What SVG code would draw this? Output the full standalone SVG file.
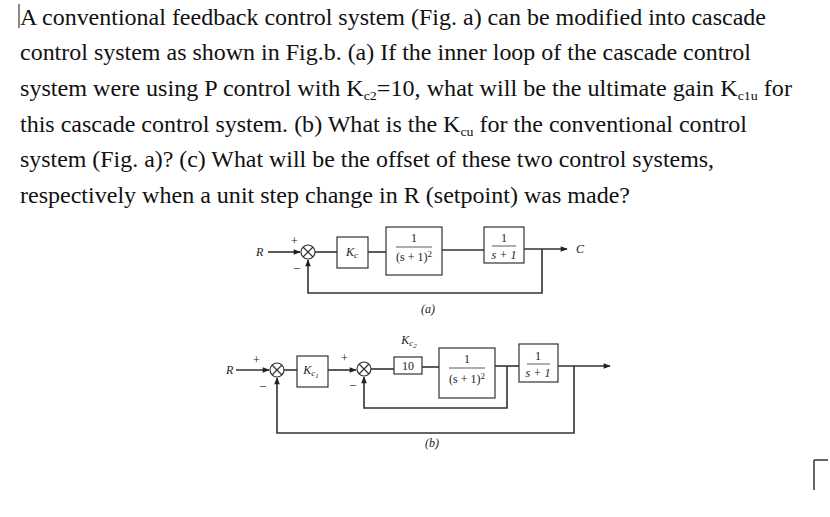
<svg xmlns="http://www.w3.org/2000/svg" width="830" height="517" viewBox="0 0 830 517">
<style>
.p{font-family:"Liberation Serif","Times New Roman",serif;font-size:22.5px;fill:#111}
.d{font-family:"Liberation Serif","Times New Roman",serif;font-size:12px;fill:#222}
.i{font-style:italic}
.b{fill:none;stroke:#333;stroke-width:1.2}
.l{fill:none;stroke:#333;stroke-width:1.6}
</style>
<defs>
<marker id="ar" viewBox="0 0 10 10" refX="9" refY="5" markerWidth="9" markerHeight="7" orient="auto" markerUnits="userSpaceOnUse"><path d="M0,1L10,5L0,9z" fill="#222"/></marker>
</defs>
<rect width="830" height="517" fill="#fff"/>
<line x1="19" y1="4" x2="19" y2="28" stroke="#111" stroke-width="1"/>
<text class="p" x="20" y="25" textLength="746" lengthAdjust="spacingAndGlyphs">A conventional feedback control system (Fig. a) can be modified into cascade</text>
<text class="p" x="20" y="60" textLength="731" lengthAdjust="spacingAndGlyphs">control system as shown in Fig.b. (a) If the inner loop of the cascade control</text>
<text class="p" x="20" y="96" textLength="772" lengthAdjust="spacingAndGlyphs">system were using P control with K<tspan font-size="13" dy="4">c2</tspan><tspan dy="-4">=10, what will be the ultimate gain K</tspan><tspan font-size="13" dy="4">c1u</tspan><tspan dy="-4"> for</tspan></text>
<text class="p" x="20" y="132" textLength="727" lengthAdjust="spacingAndGlyphs">this cascade control system. (b) What is the K<tspan font-size="13" dy="4">cu</tspan><tspan dy="-4"> for the conventional control</tspan></text>
<text class="p" x="20" y="167" textLength="694" lengthAdjust="spacingAndGlyphs">system (Fig. a)? (c) What will be the offset of these two control systems,</text>
<text class="p" x="20" y="203" textLength="610" lengthAdjust="spacingAndGlyphs">respectively when a unit step change in R (setpoint) was made?</text>
<path d="M814,460 H828 M814,460 V490" stroke="#333" stroke-width="1.5" fill="none"/>

<g id="connectors">
<line class="l" x1="268" y1="252" x2="300" y2="252" marker-end="url(#ar)"/>
<line class="l" x1="315" y1="252" x2="337" y2="252"/>
<line class="l" x1="368" y1="252" x2="386" y2="252"/>
<line class="l" x1="442" y1="250" x2="484" y2="250"/>
<line class="l" x1="524" y1="249" x2="567" y2="249" marker-end="url(#ar)"/>
<polyline class="l" points="542,249 542,293 308,293 308,260" marker-end="url(#ar)"/>
<line class="l" x1="236" y1="370" x2="269" y2="370" marker-end="url(#ar)"/>
<line class="l" x1="284" y1="370" x2="297" y2="370"/>
<line class="l" x1="328" y1="370" x2="356" y2="370" marker-end="url(#ar)"/>
<line class="l" x1="371" y1="369" x2="394" y2="369"/>
<line class="l" x1="422" y1="367" x2="439" y2="367"/>
<line class="l" x1="495" y1="366" x2="519" y2="366"/>
<line class="l" x1="558" y1="366" x2="610" y2="366" marker-end="url(#ar)"/>
<polyline class="l" points="507,366 507,408 364,408 364,377" marker-end="url(#ar)"/>
<polyline class="l" points="574,366 574,433 277,433 277,378" marker-end="url(#ar)"/>
</g>

<g id="fig-a">
<text class="d i" x="256" y="256" font-size="13">R</text>
<text class="d" x="291" y="245">+</text>
<text class="d" x="294" y="271">–</text>
<g id="sum-a"><circle class="b" cx="308" cy="252" r="7"/><path class="b" d="M303,247L313,257M313,247L303,257"/></g>
<g id="kc"><rect class="b" x="337" y="237" width="31" height="31" fill="#fff"/><text class="d i" x="352" y="256" text-anchor="middle">K<tspan font-size="9" dy="2">c</tspan></text></g>
<g id="g1"><rect class="b" x="386" y="227" width="56" height="48" fill="#fff"/><text class="d" x="414" y="242" text-anchor="middle">1</text><line x1="396" y1="247" x2="432" y2="247" stroke="#333" stroke-width="0.8"/><text class="d" x="414" y="261" text-anchor="middle">(s + 1)<tspan font-size="9" dy="-4">2</tspan></text></g>
<g id="g2"><rect class="b" x="484" y="227" width="40" height="36" fill="#fff"/><text class="d" x="504" y="242" text-anchor="middle">1</text><line x1="492" y1="246" x2="516" y2="246" stroke="#333" stroke-width="0.8"/><text class="d i" x="504" y="259" text-anchor="middle">s + 1</text></g>
<text class="d i" x="576" y="253" font-size="13">C</text>
<text class="d i" x="428" y="313" text-anchor="middle">(a)</text>
</g>

<g id="fig-b">
<text class="d i" x="226" y="374" font-size="13">R</text>
<text class="d" x="253" y="364">+</text>
<text class="d" x="260" y="389">–</text>
<g id="sum1"><circle class="b" cx="277" cy="370" r="7"/><path class="b" d="M272,365L282,375M282,365L272,375"/></g>
<g id="kc1"><rect class="b" x="297" y="356" width="31" height="31" fill="#fff"/><text class="d i" x="311" y="374" text-anchor="middle">K<tspan font-size="9" dy="2">c</tspan><tspan font-size="7" dy="2">1</tspan></text></g>
<text class="d" x="341" y="362">+</text>
<text class="d" x="350" y="388">–</text>
<g id="sum2"><circle class="b" cx="364" cy="369" r="7"/><path class="b" d="M359,364L369,374M369,364L359,374"/></g>
<g id="k10"><text class="d i" x="409" y="344" text-anchor="middle">K<tspan font-size="9" dy="2">c</tspan><tspan font-size="7" dy="2">2</tspan></text><rect class="b" x="394" y="357" width="28" height="17" fill="#fff"/><text class="d" x="408" y="370" text-anchor="middle">10</text></g>
<g id="g3"><rect class="b" x="439" y="348" width="56" height="50" fill="#fff"/><text class="d" x="467" y="363" text-anchor="middle">1</text><line x1="449" y1="368" x2="485" y2="368" stroke="#333" stroke-width="0.8"/><text class="d" x="467" y="383" text-anchor="middle">(s + 1)<tspan font-size="9" dy="-4">2</tspan></text></g>
<g id="g4"><rect class="b" x="519" y="344" width="39" height="38" fill="#fff"/><text class="d" x="538" y="360" text-anchor="middle">1</text><line x1="527" y1="364" x2="550" y2="364" stroke="#333" stroke-width="0.8"/><text class="d i" x="538" y="377" text-anchor="middle">s + 1</text></g>
<text class="d i" x="432" y="447" text-anchor="middle">(b)</text>
</g>
</svg>
